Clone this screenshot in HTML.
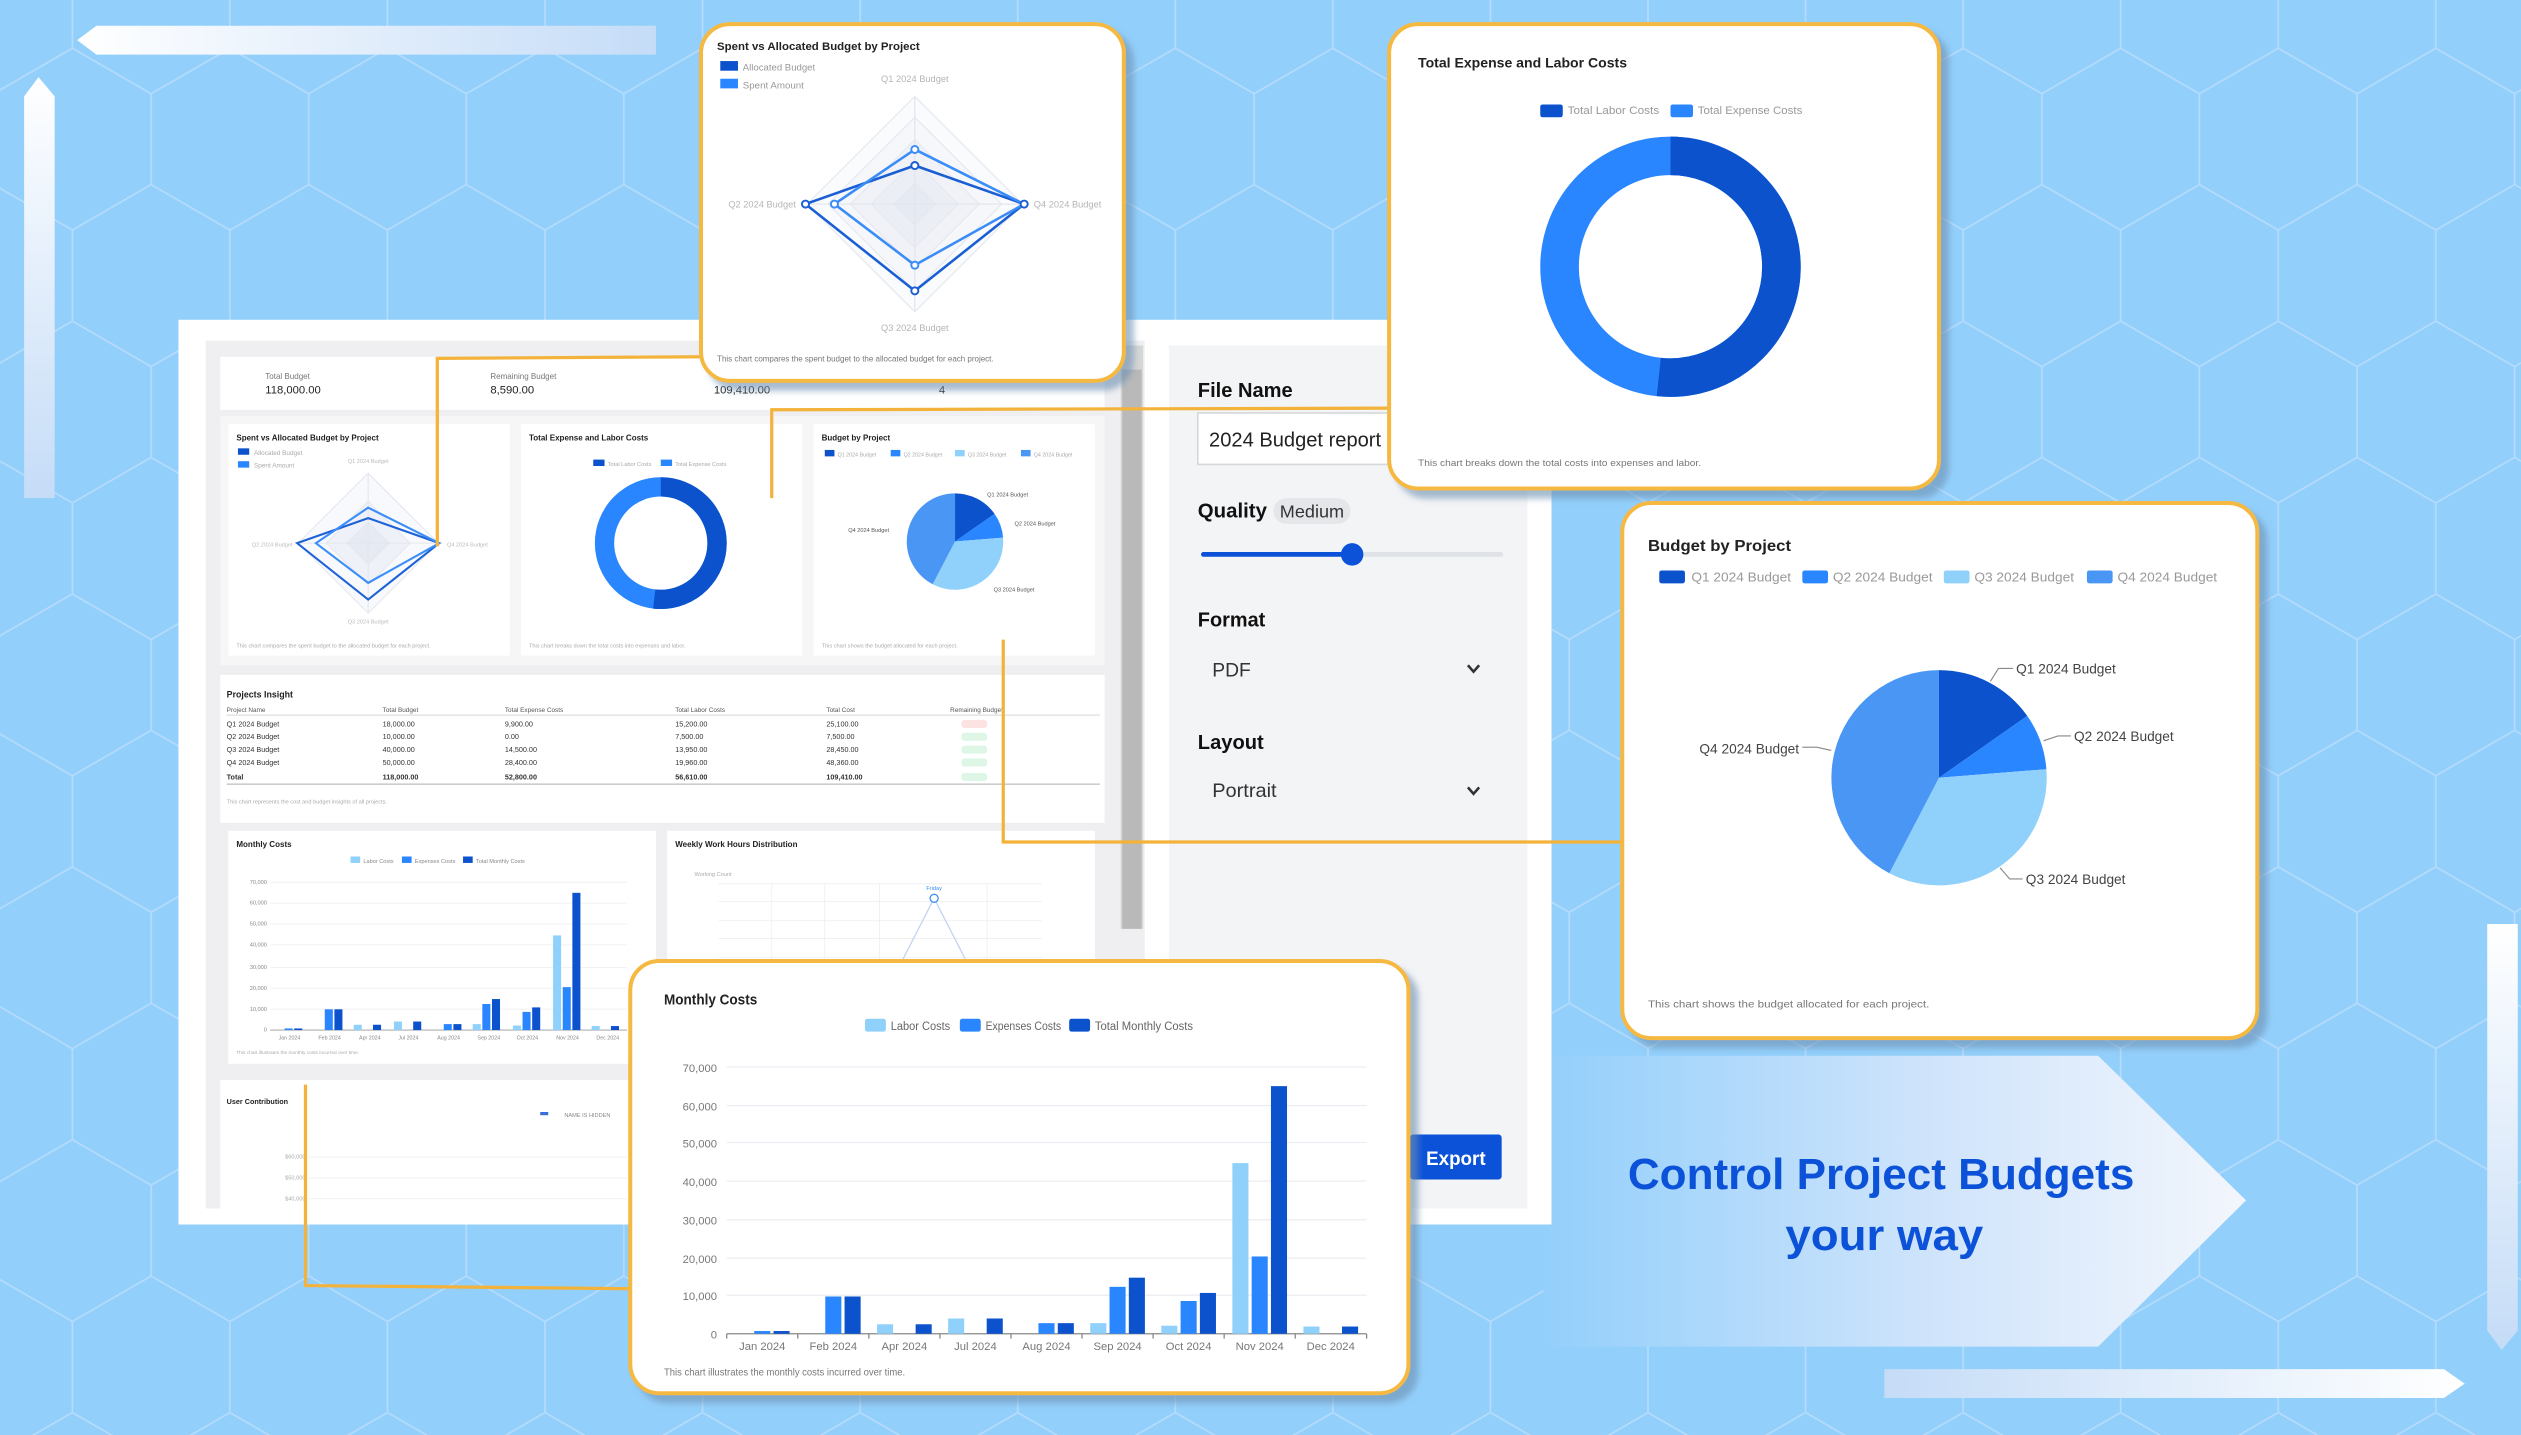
<!DOCTYPE html>
<html><head><meta charset="utf-8"><style>
html,body{margin:0;padding:0;background:#93cffb;overflow:hidden}
svg{display:block}
text{font-family:"Liberation Sans",sans-serif}
</style></head><body>
<svg width="2521" height="1435" viewBox="0 0 1568 893" preserveAspectRatio="none" xmlns="http://www.w3.org/2000/svg">
<defs>
<pattern id="hex" width="98" height="169.8" patternUnits="userSpaceOnUse" x="-4" y="30">
<path d="M49 0 L98 28.3 L98 84.9 L49 113.2 L0 84.9 L0 28.3 Z M49 113.2 L49 169.8" fill="none" stroke="#b6dcfc" stroke-width="1"/>
</pattern>
<linearGradient id="gTop" x1="0" x2="1"><stop offset="0" stop-color="#ffffff"/><stop offset="1" stop-color="#c5dcf7"/></linearGradient>
<linearGradient id="gV" x1="0" x2="0" y1="0" y2="1"><stop offset="0" stop-color="#ffffff"/><stop offset="1" stop-color="#c5dcf7"/></linearGradient>
<linearGradient id="gBot" x1="0" x2="1"><stop offset="0" stop-color="#c5dcf7"/><stop offset="1" stop-color="#ffffff"/></linearGradient>
<linearGradient id="gArrow" x1="0" x2="1"><stop offset="0" stop-color="#93cffb"/><stop offset="0.55" stop-color="#cfe4fb"/><stop offset="1" stop-color="#f3f6fc"/></linearGradient>
<filter id="sh" x="-10%" y="-10%" width="125%" height="125%"><feDropShadow dx="5" dy="5" stdDeviation="2" flood-color="#6d8fb0" flood-opacity="0.6"/></filter>
</defs>
<rect width="1568" height="893" fill="#93cffb"/>
<rect width="1568" height="893" fill="url(#hex)"/>
<!-- decorative bars -->
<polygon points="48,25 60,16 408,16 408,34 60,34" fill="url(#gTop)"/>
<polygon points="15,60 24,48 34,60 34,310 15,310" fill="url(#gV)"/>
<polygon points="1547,575 1566,575 1566,828 1556,840 1547,828" fill="url(#gV)"/>
<polygon points="1172,852 1520,852 1533,861 1520,870 1172,870" fill="url(#gBot)"/>
<polygon points="960,657 1305,657 1397,747 1305,838 960,838" fill="url(#gArrow)"/>
<text x="1170" y="740" font-size="27" font-weight="bold" fill="#0b52d8" text-anchor="middle" textLength="315" lengthAdjust="spacingAndGlyphs">Control Project Budgets</text>
<text x="1172" y="778" font-size="27" font-weight="bold" fill="#0b52d8" text-anchor="middle" textLength="123" lengthAdjust="spacingAndGlyphs">your way</text>

<!-- main panel -->
<rect x="111" y="199" width="854" height="563" fill="#ffffff"/>
<rect x="128" y="212" width="584" height="540" fill="#efeff1"/>
<rect x="727" y="215" width="223" height="537" fill="#f3f4f6"/>
<rect x="697" y="215" width="14" height="363" fill="#d6d6d6"/>
<rect x="698" y="230" width="12" height="348" fill="#b9b9b9"/>
<!-- sidebar -->
<text x="745" y="247" font-size="12.5" font-weight="bold" fill="#111">File Name</text>
<rect x="745" y="257" width="125" height="32" fill="#fff" stroke="#d5d7db"/>
<text x="752" y="278" font-size="12.5" fill="#222" textLength="107" lengthAdjust="spacingAndGlyphs">2024 Budget report</text>
<text x="745" y="322" font-size="12.5" font-weight="bold" fill="#111" textLength="43" lengthAdjust="spacingAndGlyphs">Quality</text>
<rect x="792" y="310" width="48" height="16" rx="8" fill="#e4e6ea"/>
<text x="816" y="322" font-size="11" fill="#333" text-anchor="middle" textLength="40" lengthAdjust="spacingAndGlyphs">Medium</text>
<rect x="747" y="343.5" width="188" height="3" rx="1.5" fill="#dfe2e7"/>
<rect x="747" y="343.5" width="94" height="3" rx="1.5" fill="#0b52d8"/>
<circle cx="841" cy="345" r="7" fill="#0b52d8"/>
<text x="745" y="390" font-size="12.5" font-weight="bold" fill="#111" textLength="42" lengthAdjust="spacingAndGlyphs">Format</text>
<text x="754" y="421" font-size="12" fill="#333">PDF</text>
<path d="M913 414 L916.5 418 L920 414" fill="none" stroke="#333" stroke-width="1.6"/>
<text x="745" y="466" font-size="12.5" font-weight="bold" fill="#111" textLength="41" lengthAdjust="spacingAndGlyphs">Layout</text>
<text x="754" y="496" font-size="12" fill="#333" textLength="40" lengthAdjust="spacingAndGlyphs">Portrait</text>
<path d="M913 490 L916.5 494 L920 490" fill="none" stroke="#333" stroke-width="1.6"/>
<rect x="877" y="706" width="57" height="28" rx="2" fill="#0b52d8"/>
<text x="905.5" y="725" font-size="12" font-weight="bold" fill="#fff" text-anchor="middle" textLength="37" lengthAdjust="spacingAndGlyphs">Export</text>

<!-- mini dashboard -->
<rect x="137" y="222" width="550" height="33" fill="#fff"/>
<text x="165" y="236" font-size="5" fill="#777">Total Budget</text><text x="165" y="245" font-size="7" fill="#222">118,000.00</text>
<text x="305" y="236" font-size="5" fill="#777">Remaining Budget</text><text x="305" y="245" font-size="7" fill="#222">8,590.00</text>
<text x="444" y="245" font-size="7" fill="#222">109,410.00</text>
<text x="584" y="245" font-size="7" fill="#222">4</text>
<rect x="137" y="259" width="550" height="155" fill="#f6f6f7"/>
<rect x="142" y="264" width="175" height="144" fill="#fff"/>
<rect x="324" y="264" width="175" height="144" fill="#fff"/>
<rect x="506" y="264" width="175" height="144" fill="#fff"/>
<text x="147" y="274" font-size="5" font-weight="bold" fill="#222">Spent vs Allocated Budget by Project</text>
<rect x="148" y="279" width="7" height="4" fill="#0b52cc"/><text x="158" y="283" font-size="4" fill="#aaa">Allocated Budget</text>
<rect x="148" y="287" width="7" height="4" fill="#2a86ff"/><text x="158" y="291" font-size="4" fill="#aaa">Spent Amount</text>
<g transform="translate(229,338) scale(0.65)">
<polygon points="0,-67 67,0 0,67 -67,0" fill="#f8f9fc" stroke="#e4e7ee" stroke-width="1"/>
<polygon points="0,-40 40,0 0,40 -40,0" fill="#eef1f8" stroke="#e4e7ee"/>
<polygon points="0,-20 20,0 0,20 -20,0" fill="#e6eaf3" stroke="#e4e7ee"/>
<line x1="0" y1="-67" x2="0" y2="67" stroke="#e4e7ee"/><line x1="-67" y1="0" x2="67" y2="0" stroke="#e4e7ee"/>
<polygon points="0,-24 68,0 0,54 -68,0" fill="none" stroke="#1d62d6" stroke-width="2"/>
<polygon points="0,-34 68,0 0,38 -50,0" fill="none" stroke="#3b8ef7" stroke-width="2"/>
</g>
<text x="229" y="288" font-size="3.5" fill="#bbb" text-anchor="middle">Q1 2024 Budget</text>
<text x="229" y="388" font-size="3.5" fill="#bbb" text-anchor="middle">Q3 2024 Budget</text>
<text x="182" y="340" font-size="3.5" fill="#bbb" text-anchor="end">Q2 2024 Budget</text>
<text x="278" y="340" font-size="3.5" fill="#bbb">Q4 2024 Budget</text>
<text x="147" y="403" font-size="3.5" fill="#aaa">This chart compares the spent budget to the allocated budget for each project.</text>
<text x="329" y="274" font-size="5" font-weight="bold" fill="#222">Total Expense and Labor Costs</text>
<rect x="369" y="286" width="7" height="4" fill="#0b52cc"/><text x="378" y="290" font-size="3.5" fill="#aaa">Total Labor Costs</text>
<rect x="411" y="286" width="7" height="4" fill="#2a86ff"/><text x="420" y="290" font-size="3.5" fill="#aaa">Total Expense Costs</text>
<circle cx="411" cy="338" r="35" fill="none" stroke="#2a86ff" stroke-width="12"/>
<circle cx="411" cy="338" r="35" fill="none" stroke="#0b52cc" stroke-width="12" stroke-dasharray="114 220" transform="rotate(-90 411 338)"/>
<text x="329" y="403" font-size="3.5" fill="#aaa">This chart breaks down the total costs into expenses and labor.</text>
<text x="511" y="274" font-size="5" font-weight="bold" fill="#222">Budget by Project</text>
<rect x="513" y="280" width="6" height="4" fill="#0b52cc"/><rect x="554" y="280" width="6" height="4" fill="#2a86ff"/><rect x="594" y="280" width="6" height="4" fill="#8fd1fb"/><rect x="635" y="280" width="6" height="4" fill="#4a96f5"/>
<text x="521" y="284" font-size="3.3" fill="#aaa">Q1 2024 Budget</text><text x="562" y="284" font-size="3.3" fill="#aaa">Q2 2024 Budget</text><text x="602" y="284" font-size="3.3" fill="#aaa">Q3 2024 Budget</text><text x="643" y="284" font-size="3.3" fill="#aaa">Q4 2024 Budget</text>
<path d="M594 337 L594 307 A30 30 0 0 1 618.6 319.8 Z" fill="#0b52cc"/>
<path d="M594 337 L618.6 319.8 A30 30 0 0 1 623.9 334.6 Z" fill="#2a86ff"/>
<path d="M594 337 L623.9 334.6 A30 30 0 0 1 580.1 363.6 Z" fill="#8fd1fb"/>
<path d="M594 337 L580.1 363.6 A30 30 0 0 1 594 307 Z" fill="#4a96f5"/>
<text x="614" y="309" font-size="3.5" fill="#555">Q1 2024 Budget</text><text x="631" y="327" font-size="3.5" fill="#555">Q2 2024 Budget</text>
<text x="618" y="368" font-size="3.5" fill="#555">Q3 2024 Budget</text><text x="553" y="331" font-size="3.5" fill="#555" text-anchor="end">Q4 2024 Budget</text>
<text x="511" y="403" font-size="3.5" fill="#aaa">This chart shows the budget allocated for each project.</text>
<!-- table -->
<rect x="137" y="420" width="550" height="92" fill="#fff"/>
<text x="141" y="434" font-size="5.5" font-weight="bold" fill="#222">Projects Insight</text>
<g font-size="4" fill="#555">
<text x="141" y="443">Project Name</text><text x="238" y="443">Total Budget</text><text x="314" y="443">Total Expense Costs</text><text x="420" y="443">Total Labor Costs</text><text x="514" y="443">Total Cost</text><text x="591" y="443">Remaining Budget</text>
</g>
<line x1="141" y1="445" x2="684" y2="445" stroke="#ddd" stroke-width="0.8"/>
<g font-size="4.5" fill="#333">
<text x="141" y="452">Q1 2024 Budget</text><text x="238" y="452">18,000.00</text><text x="314" y="452">9,900.00</text><text x="420" y="452">15,200.00</text><text x="514" y="452">25,100.00</text>
<text x="141" y="460">Q2 2024 Budget</text><text x="238" y="460">10,000.00</text><text x="314" y="460">0.00</text><text x="420" y="460">7,500.00</text><text x="514" y="460">7,500.00</text>
<text x="141" y="468">Q3 2024 Budget</text><text x="238" y="468">40,000.00</text><text x="314" y="468">14,500.00</text><text x="420" y="468">13,950.00</text><text x="514" y="468">28,450.00</text>
<text x="141" y="476">Q4 2024 Budget</text><text x="238" y="476">50,000.00</text><text x="314" y="476">28,400.00</text><text x="420" y="476">19,960.00</text><text x="514" y="476">48,360.00</text>
<text x="141" y="485" font-weight="bold">Total</text><text x="238" y="485" font-weight="bold">118,000.00</text><text x="314" y="485" font-weight="bold">52,800.00</text><text x="420" y="485" font-weight="bold">56,610.00</text><text x="514" y="485" font-weight="bold">109,410.00</text>
</g>
<rect x="598" y="448" width="16" height="5" rx="2" fill="#fde2e2"/><rect x="598" y="456" width="16" height="5" rx="2" fill="#ddf6e6"/><rect x="598" y="464" width="16" height="5" rx="2" fill="#ddf6e6"/><rect x="598" y="472" width="16" height="5" rx="2" fill="#ddf6e6"/><rect x="598" y="481" width="16" height="5" rx="2" fill="#ddf6e6"/>
<line x1="141" y1="488" x2="684" y2="488" stroke="#ccc" stroke-width="1"/>
<text x="141" y="500" font-size="3.5" fill="#aaa">This chart represents the cost and budget insights of all projects.</text>
<!-- mini monthly -->
<rect x="142" y="517" width="266" height="145" fill="#fff"/>
<rect x="415" y="517" width="266" height="90" fill="#fff"/>
<text x="147" y="527" font-size="5" font-weight="bold" fill="#222">Monthly Costs</text>
<rect x="218" y="533" width="6" height="4" fill="#8fd1fb"/><text x="226" y="537" font-size="3.5" fill="#888">Labor Costs</text>
<rect x="250" y="533" width="6" height="4" fill="#2a86ff"/><text x="258" y="537" font-size="3.5" fill="#888">Expenses Costs</text>
<rect x="288" y="533" width="6" height="4" fill="#0b52cc"/><text x="296" y="537" font-size="3.5" fill="#888">Total Monthly Costs</text>
<g stroke="#eee" stroke-width="0.5"><line x1="168" y1="549" x2="390" y2="549"/><line x1="168" y1="562" x2="390" y2="562"/><line x1="168" y1="575" x2="390" y2="575"/><line x1="168" y1="588" x2="390" y2="588"/><line x1="168" y1="602" x2="390" y2="602"/><line x1="168" y1="615" x2="390" y2="615"/><line x1="168" y1="628" x2="390" y2="628"/></g>
<line x1="168" y1="641" x2="390" y2="641" stroke="#999" stroke-width="0.6"/>
<g font-size="3.5" fill="#888" text-anchor="end"><text x="166" y="550">70,000</text><text x="166" y="563">60,000</text><text x="166" y="576">50,000</text><text x="166" y="589">40,000</text><text x="166" y="603">30,000</text><text x="166" y="616">20,000</text><text x="166" y="629">10,000</text><text x="166" y="642">0</text></g>
<g>
<rect x="177" y="640" width="5" height="1" fill="#2a86ff"/><rect x="183" y="640" width="5" height="1" fill="#0b52cc"/>
<rect x="202" y="628.1" width="5" height="12.9" fill="#2a86ff"/><rect x="208" y="628.1" width="5" height="12.9" fill="#0b52cc"/>
<rect x="220" y="637.7" width="5" height="3.3" fill="#8fd1fb"/><rect x="232" y="637.7" width="5" height="3.3" fill="#0b52cc"/>
<rect x="245" y="635.7" width="5" height="5.3" fill="#8fd1fb"/><rect x="257" y="635.7" width="5" height="5.3" fill="#0b52cc"/>
<rect x="276" y="637.3" width="5" height="3.7" fill="#2a86ff"/><rect x="282" y="637.3" width="5" height="3.7" fill="#0b52cc"/>
<rect x="294" y="637.3" width="5" height="3.7" fill="#8fd1fb"/><rect x="300" y="624.8" width="5" height="16.2" fill="#2a86ff"/><rect x="306" y="621.7" width="5" height="19.3" fill="#0b52cc"/>
<rect x="319" y="638.2" width="5" height="2.8" fill="#8fd1fb"/><rect x="325" y="629.7" width="5" height="11.3" fill="#2a86ff"/><rect x="331" y="626.9" width="5" height="14.1" fill="#0b52cc"/>
<rect x="344" y="582.1" width="5" height="58.9" fill="#8fd1fb"/><rect x="350" y="614.3" width="5" height="26.7" fill="#2a86ff"/><rect x="356" y="555.6" width="5" height="85.4" fill="#0b52cc"/>
<rect x="368" y="638.5" width="5" height="2.5" fill="#8fd1fb"/><rect x="380" y="638.5" width="5" height="2.5" fill="#0b52cc"/>
</g>
<g font-size="3.3" fill="#888" text-anchor="middle"><text x="180" y="647">Jan 2024</text><text x="205" y="647">Feb 2024</text><text x="230" y="647">Apr 2024</text><text x="254" y="647">Jul 2024</text><text x="279" y="647">Aug 2024</text><text x="304" y="647">Sep 2024</text><text x="328" y="647">Oct 2024</text><text x="353" y="647">Nov 2024</text><text x="378" y="647">Dec 2024</text></g>
<text x="147" y="656" font-size="3" fill="#aaa">This chart illustrates the monthly costs incurred over time.</text>
<text x="420" y="527" font-size="5" font-weight="bold" fill="#222">Weekly Work Hours Distribution</text>
<text x="432" y="545" font-size="3.5" fill="#aaa">Working Count</text>
<g stroke="#eee" stroke-width="0.5"><line x1="447" y1="550" x2="648" y2="550"/><line x1="447" y1="561" x2="648" y2="561"/><line x1="447" y1="573" x2="648" y2="573"/><line x1="447" y1="584" x2="648" y2="584"/><line x1="447" y1="596" x2="648" y2="596"/><line x1="480" y1="550" x2="480" y2="600"/><line x1="513" y1="550" x2="513" y2="600"/><line x1="547" y1="550" x2="547" y2="600"/><line x1="614" y1="550" x2="614" y2="600"/></g>
<path d="M560 600 L581 559 L602 600" fill="none" stroke="#c3d4ef" stroke-width="0.8"/>
<circle cx="581" cy="559" r="2.5" fill="#fff" stroke="#3b8ef7" stroke-width="0.8"/>
<text x="581" y="554" font-size="3.5" fill="#3b8ef7" text-anchor="middle">Friday</text>
<rect x="137" y="672" width="260" height="80" fill="#fff"/>
<text x="141" y="687" font-size="4.5" font-weight="bold" fill="#222">User Contribution</text>
<rect x="336" y="692" width="5" height="2" fill="#3b6fd6"/><text x="351" y="695" font-size="3.5" fill="#888">NAME IS HIDDEN</text>
<g font-size="3.5" fill="#aaa" text-anchor="end"><text x="190" y="721">$60,000</text><text x="190" y="734">$50,000</text><text x="190" y="747">$40,000</text></g>
<g stroke="#eee" stroke-width="0.5"><line x1="192" y1="720" x2="390" y2="720"/><line x1="192" y1="733" x2="390" y2="733"/><line x1="192" y1="746" x2="390" y2="746"/></g>

<!-- connectors -->
<g fill="none" stroke="#f3b23a" stroke-width="2">
<polyline points="440,222 272,223 272,340"/>
<polyline points="866,254 480,255 480,310"/>
<polyline points="624,398 624,524 1012,524"/>
<polyline points="190,675 190,800 395,802"/>
</g>

<!-- popup radar -->
<g filter="url(#sh)"><rect x="436" y="15" width="263" height="222" rx="18" fill="#fff" stroke="#f5b942" stroke-width="2.5"/></g>
<text x="446" y="31" font-size="7" font-weight="bold" fill="#222" textLength="126" lengthAdjust="spacingAndGlyphs">Spent vs Allocated Budget by Project</text>
<rect x="448" y="38" width="11" height="6" fill="#0b52cc"/><text x="462" y="44" font-size="6" fill="#999" textLength="45" lengthAdjust="spacingAndGlyphs">Allocated Budget</text>
<rect x="448" y="49" width="11" height="6" fill="#2a86ff"/><text x="462" y="55" font-size="6" fill="#999" textLength="38" lengthAdjust="spacingAndGlyphs">Spent Amount</text>
<g transform="translate(569,127)">
<polygon points="0,-67 67,0 0,67 -67,0" fill="#fafbfd" stroke="#e6e9f0" stroke-width="0.8"/>
<polygon points="0,-54 54,0 0,54 -54,0" fill="#f5f7fb" stroke="#e6e9f0" stroke-width="0.8"/>
<polygon points="0,-40 40,0 0,40 -40,0" fill="#f0f2f8" stroke="#e6e9f0" stroke-width="0.8"/>
<polygon points="0,-27 27,0 0,27 -27,0" fill="#ebeef5" stroke="#e6e9f0" stroke-width="0.8"/>
<polygon points="0,-13 13,0 0,13 -13,0" fill="#e6eaf2" stroke="#e6e9f0" stroke-width="0.8"/>
<line x1="0" y1="-67" x2="0" y2="67" stroke="#e3e6ed" stroke-width="0.8"/><line x1="-67" y1="0" x2="67" y2="0" stroke="#e3e6ed" stroke-width="0.8"/>
<polygon points="0,-24 68,0 0,54 -68,0" fill="none" stroke="#1a5ed4" stroke-width="1.6"/>
<polygon points="0,-34 68,0 0,38 -50,0" fill="none" stroke="#3a8cf6" stroke-width="1.6"/>
<g fill="#fff" stroke="#1a5ed4" stroke-width="1.2"><circle cx="0" cy="-24" r="2.2"/><circle cx="68" cy="0" r="2.2"/><circle cx="0" cy="54" r="2.2"/><circle cx="-68" cy="0" r="2.2"/></g>
<g fill="#fff" stroke="#3a8cf6" stroke-width="1.2"><circle cx="0" cy="-34" r="2.2"/><circle cx="0" cy="38" r="2.2"/><circle cx="-50" cy="0" r="2.2"/></g>
</g>
<text x="569" y="51" font-size="6" fill="#b5b5b5" text-anchor="middle" textLength="42" lengthAdjust="spacingAndGlyphs">Q1 2024 Budget</text>
<text x="569" y="206" font-size="6" fill="#b5b5b5" text-anchor="middle" textLength="42" lengthAdjust="spacingAndGlyphs">Q3 2024 Budget</text>
<text x="495" y="129" font-size="6" fill="#b5b5b5" text-anchor="end" textLength="42" lengthAdjust="spacingAndGlyphs">Q2 2024 Budget</text>
<text x="643" y="129" font-size="6" fill="#b5b5b5" textLength="42" lengthAdjust="spacingAndGlyphs">Q4 2024 Budget</text>
<text x="446" y="225" font-size="5" fill="#777" textLength="172" lengthAdjust="spacingAndGlyphs">This chart compares the spent budget to the allocated budget for each project.</text>

<!-- popup donut -->
<g filter="url(#sh)"><rect x="864" y="15" width="342" height="289" rx="18" fill="#fff" stroke="#f5b942" stroke-width="2.5"/></g>
<text x="882" y="42" font-size="8.5" font-weight="bold" fill="#222" textLength="130" lengthAdjust="spacingAndGlyphs">Total Expense and Labor Costs</text>
<rect x="958" y="65" width="14" height="8" rx="1.5" fill="#0b52cc"/><text x="975" y="71" font-size="7" fill="#999" textLength="57" lengthAdjust="spacingAndGlyphs">Total Labor Costs</text>
<rect x="1039" y="65" width="14" height="8" rx="1.5" fill="#2a86ff"/><text x="1056" y="71" font-size="7" fill="#999" textLength="65" lengthAdjust="spacingAndGlyphs">Total Expense Costs</text>
<circle cx="1039" cy="166" r="69" fill="none" stroke="#2a86ff" stroke-width="24"/>
<circle cx="1039" cy="166" r="69" fill="none" stroke="#0b52cc" stroke-width="24" stroke-dasharray="224 440" transform="rotate(-90 1039 166)"/>
<text x="882" y="290" font-size="6" fill="#777" textLength="176" lengthAdjust="spacingAndGlyphs">This chart breaks down the total costs into expenses and labor.</text>

<!-- popup pie -->
<g filter="url(#sh)"><rect x="1009" y="313" width="395" height="333" rx="18" fill="#fff" stroke="#f5b942" stroke-width="2.5"/></g>
<text x="1025" y="343" font-size="10" font-weight="bold" fill="#222" textLength="89" lengthAdjust="spacingAndGlyphs">Budget by Project</text>
<rect x="1032" y="355" width="16" height="8" rx="1.5" fill="#0b52cc"/><text x="1052" y="362" font-size="8" fill="#999" textLength="62" lengthAdjust="spacingAndGlyphs">Q1 2024 Budget</text>
<rect x="1121" y="355" width="16" height="8" rx="1.5" fill="#2a86ff"/><text x="1140" y="362" font-size="8" fill="#999" textLength="62" lengthAdjust="spacingAndGlyphs">Q2 2024 Budget</text>
<rect x="1209" y="355" width="16" height="8" rx="1.5" fill="#8fd1fb"/><text x="1228" y="362" font-size="8" fill="#999" textLength="62" lengthAdjust="spacingAndGlyphs">Q3 2024 Budget</text>
<rect x="1298" y="355" width="16" height="8" rx="1.5" fill="#4a96f5"/><text x="1317" y="362" font-size="8" fill="#999" textLength="62" lengthAdjust="spacingAndGlyphs">Q4 2024 Budget</text>
<path d="M1206 484 L1206 417 A67 67 0 0 1 1260.9 445.5 Z" fill="#0b52cc"/>
<path d="M1206 484 L1260.9 445.5 A67 67 0 0 1 1272.8 478.7 Z" fill="#2a86ff"/>
<path d="M1206 484 L1272.8 478.7 A67 67 0 0 1 1175.1 543.4 Z" fill="#8fd1fb"/>
<path d="M1206 484 L1175.1 543.4 A67 67 0 0 1 1206 417 Z" fill="#4a96f5"/>
<g fill="none" stroke="#888" stroke-width="0.7">
<polyline points="1238,424 1243,416 1252,416"/><polyline points="1271,461 1280,458 1288,458"/><polyline points="1244,540 1250,547 1258,547"/><polyline points="1139,467 1130,465 1121,465"/>
</g>
<g font-size="8.5" fill="#444"><text x="1254" y="419" textLength="62" lengthAdjust="spacingAndGlyphs">Q1 2024 Budget</text><text x="1290" y="461" textLength="62" lengthAdjust="spacingAndGlyphs">Q2 2024 Budget</text><text x="1260" y="550" textLength="62" lengthAdjust="spacingAndGlyphs">Q3 2024 Budget</text><text x="1119" y="469" text-anchor="end" textLength="62" lengthAdjust="spacingAndGlyphs">Q4 2024 Budget</text></g>
<text x="1025" y="627" font-size="6.5" fill="#777" textLength="175" lengthAdjust="spacingAndGlyphs">This chart shows the budget allocated for each project.</text>

<!-- popup monthly -->
<g filter="url(#sh)"><rect x="392" y="598" width="484" height="269" rx="18" fill="#fff" stroke="#f5b942" stroke-width="2.5"/></g>
<text x="413" y="625" font-size="9" font-weight="bold" fill="#222" textLength="58" lengthAdjust="spacingAndGlyphs">Monthly Costs</text>
<rect x="538" y="634" width="13" height="8" rx="1.5" fill="#8fd1fb"/><text x="554" y="641" font-size="7.5" fill="#666" textLength="37" lengthAdjust="spacingAndGlyphs">Labor Costs</text>
<rect x="597" y="634" width="13" height="8" rx="1.5" fill="#2a86ff"/><text x="613" y="641" font-size="7.5" fill="#666" textLength="47" lengthAdjust="spacingAndGlyphs">Expenses Costs</text>
<rect x="665" y="634" width="13" height="8" rx="1.5" fill="#0b52cc"/><text x="681" y="641" font-size="7.5" fill="#666" textLength="61" lengthAdjust="spacingAndGlyphs">Total Monthly Costs</text>
<g stroke="#eceef2" stroke-width="0.8"><line x1="452" y1="664" x2="850" y2="664"/><line x1="452" y1="688" x2="850" y2="688"/><line x1="452" y1="711" x2="850" y2="711"/><line x1="452" y1="735" x2="850" y2="735"/><line x1="452" y1="759" x2="850" y2="759"/><line x1="452" y1="783" x2="850" y2="783"/><line x1="452" y1="806" x2="850" y2="806"/></g>
<line x1="452" y1="830" x2="850" y2="830" stroke="#888" stroke-width="0.8"/>
<g stroke="#888" stroke-width="0.8"><line x1="452" y1="830" x2="452" y2="833"/><line x1="496.2" y1="830" x2="496.2" y2="833"/><line x1="540.4" y1="830" x2="540.4" y2="833"/><line x1="584.6" y1="830" x2="584.6" y2="833"/><line x1="628.8" y1="830" x2="628.8" y2="833"/><line x1="673" y1="830" x2="673" y2="833"/><line x1="717.2" y1="830" x2="717.2" y2="833"/><line x1="761.4" y1="830" x2="761.4" y2="833"/><line x1="805.6" y1="830" x2="805.6" y2="833"/><line x1="850" y1="830" x2="850" y2="833"/></g>
<g font-size="7" fill="#777" text-anchor="end"><text x="446" y="667">70,000</text><text x="446" y="691">60,000</text><text x="446" y="714">50,000</text><text x="446" y="738">40,000</text><text x="446" y="762">30,000</text><text x="446" y="786">20,000</text><text x="446" y="809">10,000</text><text x="446" y="833">0</text></g>
<g>
<rect x="469.1" y="828.3" width="10" height="1.7" fill="#2a86ff"/><rect x="481.1" y="828.3" width="10" height="1.7" fill="#0b52cc"/>
<rect x="513.3" y="806.8" width="10" height="23.2" fill="#2a86ff"/><rect x="525.3" y="806.8" width="10" height="23.2" fill="#0b52cc"/>
<rect x="545.5" y="824.1" width="10" height="5.9" fill="#8fd1fb"/><rect x="569.5" y="824.1" width="10" height="5.9" fill="#0b52cc"/>
<rect x="589.7" y="820.5" width="10" height="9.5" fill="#8fd1fb"/><rect x="613.7" y="820.5" width="10" height="9.5" fill="#0b52cc"/>
<rect x="645.9" y="823.4" width="10" height="6.6" fill="#2a86ff"/><rect x="657.9" y="823.4" width="10" height="6.6" fill="#0b52cc"/>
<rect x="678.1" y="823.4" width="10" height="6.6" fill="#8fd1fb"/><rect x="690.1" y="800.8" width="10" height="29.2" fill="#2a86ff"/><rect x="702.1" y="795.1" width="10" height="34.9" fill="#0b52cc"/>
<rect x="722.3" y="825" width="10" height="5" fill="#8fd1fb"/><rect x="734.3" y="809.6" width="10" height="20.4" fill="#2a86ff"/><rect x="746.3" y="804.6" width="10" height="25.4" fill="#0b52cc"/>
<rect x="766.5" y="723.8" width="10" height="106.2" fill="#8fd1fb"/><rect x="778.5" y="781.9" width="10" height="48.1" fill="#2a86ff"/><rect x="790.5" y="675.9" width="10" height="154.1" fill="#0b52cc"/>
<rect x="810.7" y="825.5" width="10" height="4.5" fill="#8fd1fb"/><rect x="834.7" y="825.5" width="10" height="4.5" fill="#0b52cc"/>
</g>
<g font-size="7" fill="#777" text-anchor="middle"><text x="474.1" y="840">Jan 2024</text><text x="518.3" y="840">Feb 2024</text><text x="562.5" y="840">Apr 2024</text><text x="606.7" y="840">Jul 2024</text><text x="650.9" y="840">Aug 2024</text><text x="695.1" y="840">Sep 2024</text><text x="739.3" y="840">Oct 2024</text><text x="783.5" y="840">Nov 2024</text><text x="827.7" y="840">Dec 2024</text></g>
<text x="413" y="856" font-size="6.5" fill="#777" textLength="150" lengthAdjust="spacingAndGlyphs">This chart illustrates the monthly costs incurred over time.</text>
</svg>
</body></html>
